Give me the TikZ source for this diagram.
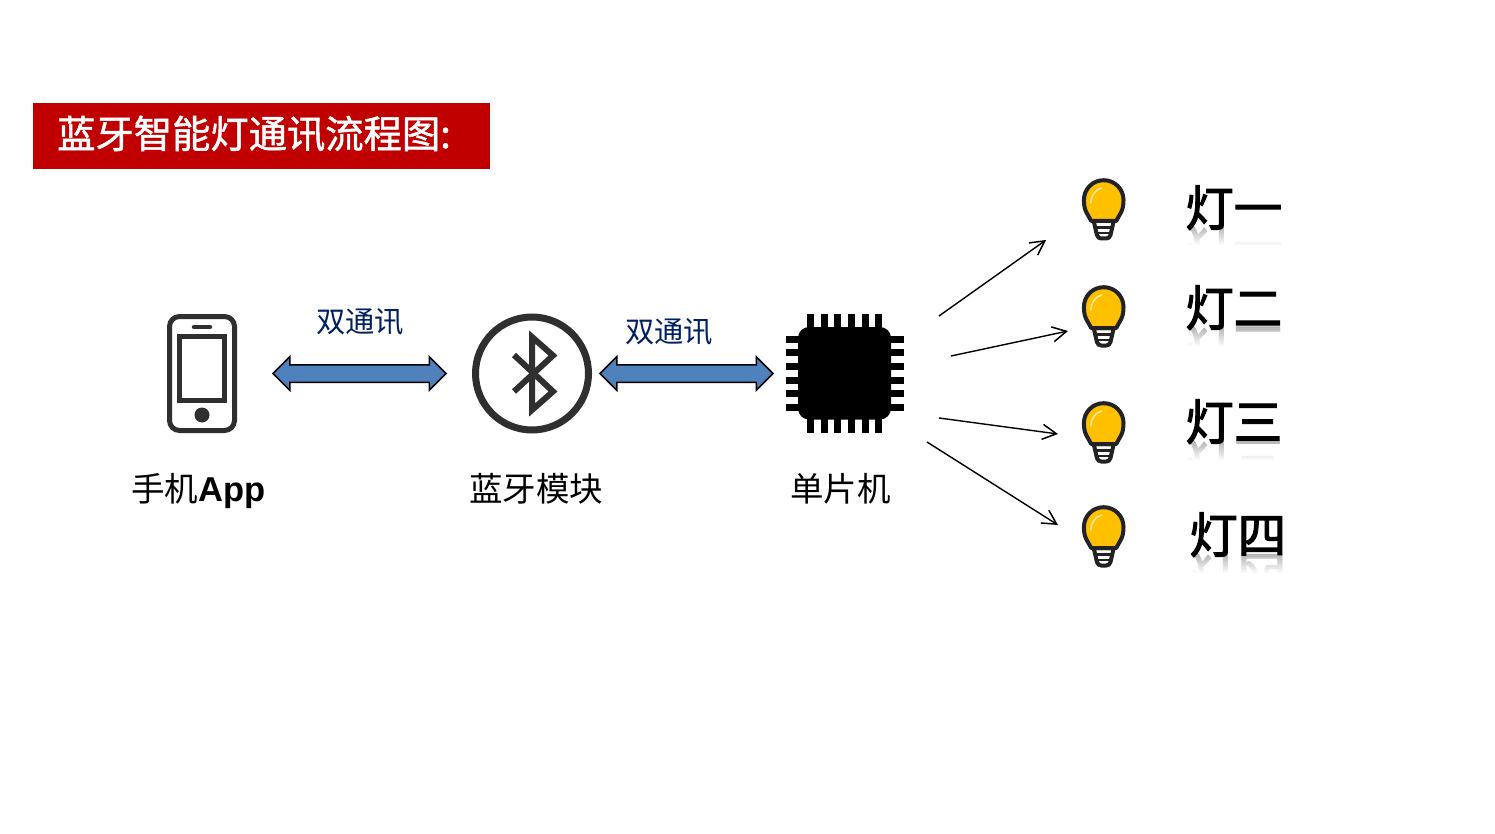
\documentclass[tikz,border=0pt]{standalone}
\usepackage{fontspec}
\setmainfont{Noto Sans CJK SC}
\newfontfamily\latinfont{Liberation Sans}
\newfontfamily\titlefont[FakeBold=1.3]{Noto Sans CJK SC}
\newfontfamily\lampfont[FakeBold=2.4]{Noto Sans CJK SC}
\usetikzlibrary{arrows.meta,shapes.arrows}
\definecolor{titlered}{HTML}{C00000}
\definecolor{arrowblue}{HTML}{4F81BD}
\definecolor{linknavy}{HTML}{002060}
\definecolor{icondark}{HTML}{2F2F2F}
\definecolor{bulbdark}{HTML}{222222}
\definecolor{bulbyellow}{HTML}{FFC000}
\newcommand{\fsz}[1]{\fontsize{#1}{#1}\selectfont}
\newcommand{\lamplabel}[4]{%
  % #1 x, #2 baseline y, #3 text, #4 name
  \foreach \i in {0,...,10}{%
    \begin{scope}
      \clip (#1-6,#2+2*\i) rectangle (#1+110,#2+2*\i+2);
      \pgfmathsetmacro{\g}{max(0,30-3*\i)}
      \node[lamptext,text=black!\g,yscale=-1,transform shape] (#4m\i) at (#1,#2) {#3};
    \end{scope}}
  \node[lamptext] (#4) at (#1,#2) {#3};
}
\tikzset{
  x=1pt,y=-1pt,
  lamptext/.style={anchor=base west,inner sep=0pt,font=\fsz{48.5}\lampfont},
  devlabel/.style={anchor=base west,inner sep=0pt,font=\fsz{33.5},text=black},
  linklabel/.style={anchor=base west,inner sep=0pt,font=\fsz{29.3},text=linknavy},
  duplex/.style={shape=double arrow,draw=black,line width=1.5pt,fill=arrowblue,
    double arrow head extend=8pt,minimum width=33pt,inner xsep=0pt,inner ysep=8pt,
    double arrow tip angle=90},
  branch/.style={draw=black,line width=1.4pt,-{Straight Barb[length=14pt,width=15pt,line width=1.5pt]}},
  bulb/.pic={
    \draw[bulbdark,line width=4pt,fill=white,line join=round]
      (-10,21) -- (-6.8,35) .. controls (-6,37.5) and (-4.5,38.5) .. (-2.5,38.5) -- (2.5,38.5)
      .. controls (4.5,38.5) and (6,37.5) .. (6.8,35) -- (10,21) -- cycle;
    \draw[bulbdark,line width=2.8pt] (-9,27.5) -- (9,27.5) (-7.5,33) -- (7.5,33);
    \draw[bulbdark,line width=4pt,fill=bulbyellow,line join=round]
      (-12.5,21) -- (-17.5,12) .. controls (-19,9.2) and (-19.8,5) .. (-19.8,0)
      .. controls (-19.8,-11) and (-11,-19.8) .. (0,-19.8)
      .. controls (11,-19.8) and (19.8,-11) .. (19.8,0)
      .. controls (19.8,5) and (19,9.2) .. (17.5,12) -- (12.5,21) -- cycle;
    \draw[white!60!bulbyellow,line width=1.6pt,line cap=round]
      (-13,3) .. controls (-13,-4) and (-8,-11) .. (-2,-12);
  },
}
\begin{document}
\begin{tikzpicture}
\useasboundingbox (0,0) rectangle (1495,834);
\fill[white] (0,0) rectangle (1495,834);

% title
\fill[titlered] (33,103) rectangle (490,169);
\node[anchor=base west,inner sep=0pt,font=\fsz{38.3}\titlefont,text=white] (title) at (57,148) {蓝牙智能灯通讯流程图:};

% phone
\draw[icondark,line width=5pt,rounded corners=10pt] (169.5,316.5) rectangle (234.5,430.5);
\draw[icondark,line width=5pt] (179.5,336.5) rectangle (224.5,400);
\draw[icondark,line width=4.5pt,line cap=round] (194,327) -- (210,327);
\fill[icondark] (202,415) circle (7.5);

% bluetooth
\draw[icondark,line width=7pt] (532,373.5) circle (56.5);
\draw[icondark,line width=6pt,miter limit=10]
  (514,355) -- (553,391.5) -- (532,410) -- (532,337) -- (553,355.5) -- (514,391.5);

% chip
\foreach \k in {0,...,5}{
  \fill[black] (807.2+13.6*\k,314) rectangle +(7,119);
  \fill[black] (786,335.8+13.6*\k) rectangle +(118,7);
}
\fill[black,rounded corners=11pt] (798,327) rectangle (891,419.5);

% double arrows
\node[duplex,minimum height=173pt] (link1) at (359.5,373.5) {};
\node[duplex,minimum height=173pt] (link2) at (686.5,373.5) {};
\node[linklabel] (label1) at (316,332) {双通讯};
\node[linklabel] (label2) at (625,342) {双通讯};

% device labels
\node[devlabel] (phonelabel) at (131,501) {手机{\latinfont\bfseries\fsz{34.5}App}};
\node[devlabel] (btlabel) at (469,501) {蓝牙模块};
\node[devlabel] (mculabel) at (790,501) {单片机};

% branch arrows
\coordinate (s1) at (939,316);  \coordinate (e1) at (1046,240);
\coordinate (s2) at (951,356);  \coordinate (e2) at (1068,331);
\coordinate (s3) at (939,418);  \coordinate (e3) at (1058,434);
\coordinate (s4) at (927,442);  \coordinate (e4) at (1058,525);
\draw[branch] (s1) -- (e1);
\draw[branch] (s2) -- (e2);
\draw[branch] (s3) -- (e3);
\draw[branch] (s4) -- (e4);

% bulbs
\pic at (1103.7,200) {bulb};
\pic at (1103.7,307) {bulb};
\pic at (1103.7,423) {bulb};
\pic at (1103.7,527) {bulb};

% lamp labels
\lamplabel{1185}{226}{灯一}{lampone}
\lamplabel{1185}{326}{灯二}{lamptwo}
\lamplabel{1185}{440}{灯三}{lampthree}
\lamplabel{1189}{553}{灯四}{lampfour}
\end{tikzpicture}
\end{document}
